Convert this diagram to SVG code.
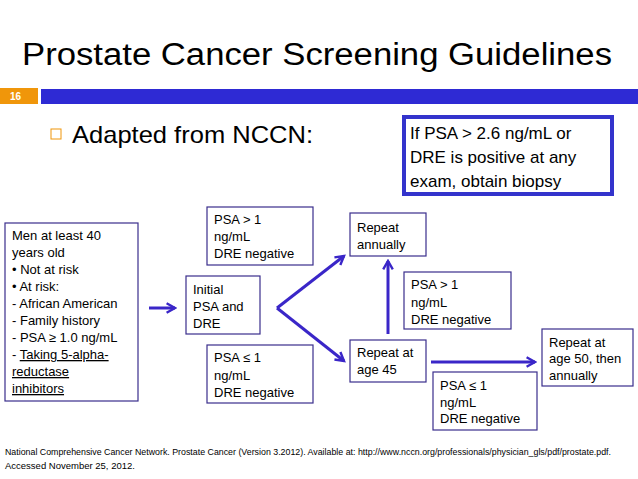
<svg xmlns="http://www.w3.org/2000/svg" width="638" height="479" viewBox="0 0 638 479">
<style>
text{font-family:"Liberation Sans",Arial,sans-serif;fill:#000}
.b rect{fill:#fff;stroke:#3a2e8c;stroke-width:1.2}
.t{font-size:13px}
#conn line{stroke:#3a26c8;stroke-width:3;marker-end:url(#ah)}
</style>
<defs>
<marker id="ah" viewBox="0 0 10 10" refX="8" refY="5" markerWidth="4" markerHeight="4" orient="auto" markerUnits="strokeWidth">
<path d="M1,1 L8,5 L1,9" fill="none" stroke="#3a26c8" stroke-width="2"/>
</marker>
</defs>
<rect width="638" height="479" fill="#fff"/>
<text x="22" y="65" font-size="31" textLength="590" lengthAdjust="spacingAndGlyphs">Prostate Cancer Screening Guidelines</text>
<rect x="0" y="88" width="38" height="16" fill="#f0960a"/>
<text x="10" y="100" font-size="10" font-weight="bold" style="fill:#fff">16</text>
<rect x="41" y="89" width="597" height="15" fill="#2e2ad4"/>
<rect x="51" y="129" width="10" height="10" fill="#fff" stroke="#f0960a" stroke-width="1"/>
<text x="72" y="143" font-size="24" textLength="241" lengthAdjust="spacingAndGlyphs">Adapted from NCCN:</text>
<g id="biopsy"><rect x="404" y="117" width="208" height="77" fill="#fff" stroke="#3333cc" stroke-width="4"/>
<text x="410" y="139" font-size="17">If PSA &gt; 2.6 ng/mL or</text><text x="410" y="163" font-size="17">DRE is positive at any</text><text x="410" y="187" font-size="17">exam, obtain biopsy</text></g>
<g id="men" class="b"><rect x="5" y="223" width="133" height="178"/>
<text class="t" x="12" y="240">Men at least 40</text><text class="t" x="12" y="257">years old</text><text class="t" x="12" y="274">• Not at risk</text><text class="t" x="12" y="291">• At risk:</text><text class="t" x="12" y="308">- African American</text><text class="t" x="12" y="325">- Family history</text><text class="t" x="12" y="342">- PSA ≥ 1.0 ng/mL</text><text class="t" x="12" y="359">- <tspan text-decoration="underline">Taking 5-alpha-</tspan></text><text class="t" x="12" y="376" text-decoration="underline">reductase</text><text class="t" x="12" y="393" text-decoration="underline">inhibitors</text></g>
<g id="initial" class="b"><rect x="186" y="276" width="74" height="58"/>
<text class="t" x="193" y="294">Initial</text><text class="t" x="193" y="311">PSA and</text><text class="t" x="193" y="328">DRE</text></g>
<g id="psa1" class="b"><rect x="207" y="207" width="106" height="58"/>
<text class="t" x="214" y="224">PSA &gt; 1</text><text class="t" x="214" y="241">ng/mL</text><text class="t" x="214" y="258">DRE negative</text></g>
<g id="psa2" class="b"><rect x="207" y="345" width="106" height="58"/>
<text class="t" x="214" y="362">PSA ≤ 1</text><text class="t" x="214" y="380">ng/mL</text><text class="t" x="214" y="397">DRE negative</text></g>
<g id="annual" class="b"><rect x="350" y="213" width="76" height="43"/>
<text class="t" x="357" y="232">Repeat</text><text class="t" x="357" y="249">annually</text></g>
<g id="psa3" class="b"><rect x="404" y="272" width="107" height="57"/>
<text class="t" x="411" y="289">PSA &gt; 1</text><text class="t" x="411" y="307">ng/mL</text><text class="t" x="411" y="324">DRE negative</text></g>
<g id="age45" class="b"><rect x="350" y="340" width="76" height="42"/>
<text class="t" x="357" y="357">Repeat at</text><text class="t" x="357" y="374">age 45</text></g>
<g id="psa4" class="b"><rect x="433" y="372" width="104" height="58"/>
<text class="t" x="440" y="390">PSA ≤ 1</text><text class="t" x="440" y="407">ng/mL</text><text class="t" x="440" y="423">DRE negative</text></g>
<g id="age50" class="b"><rect x="542" y="329" width="91" height="57"/>
<text class="t" x="549" y="347">Repeat at</text><text class="t" x="549" y="363">age 50, then</text><text class="t" x="549" y="380">annually</text></g>
<g id="conn">
<line x1="149" y1="308" x2="175" y2="308"/>
<line x1="277" y1="308" x2="344" y2="256"/>
<line x1="277" y1="308" x2="344" y2="361"/>
<line x1="388" y1="334" x2="388" y2="261"/>
<line x1="431" y1="362" x2="535" y2="362"/>
</g>
<text x="5" y="455" font-size="9" textLength="606" lengthAdjust="spacingAndGlyphs">National Comprehensive Cancer Network. Prostate Cancer (Version 3.2012). Available at: http://www.nccn.org/professionals/physician_gls/pdf/prostate.pdf.</text>
<text x="5" y="469" font-size="9.5">Accessed November 25, 2012.</text>
</svg>
